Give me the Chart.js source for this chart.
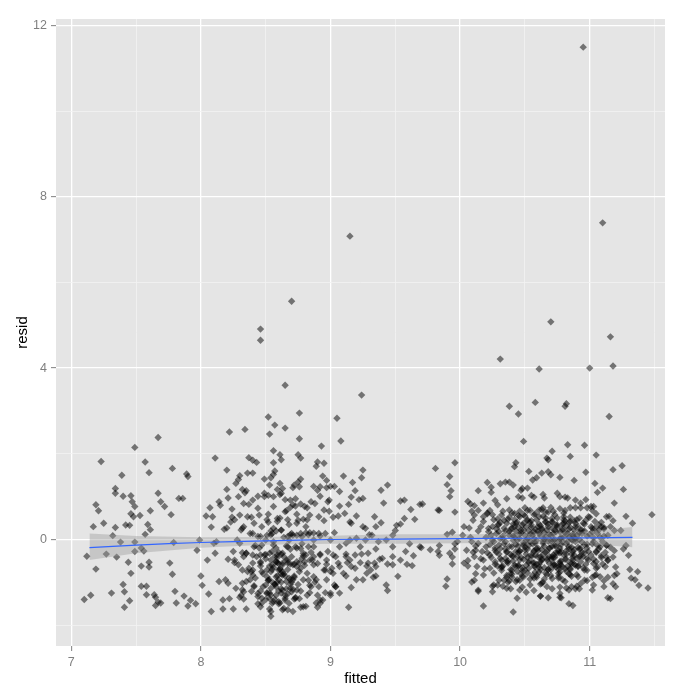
<!DOCTYPE html>
<html>
<head>
<meta charset="utf-8">
<script src="https://cdn.jsdelivr.net/npm/chart.js@4.4.1/dist/chart.umd.min.js"></script>
<style>
  html, body { margin: 0; padding: 0; background: #ffffff; }
  #wrap { width: 700px; height: 700px; }
</style>
</head>
<body>
<div id="wrap"><canvas id="resid_chart" width="700" height="700"></canvas></div>
<script>
// fitted values (x) and residuals (y)
var fitted = [
  // left group, below 8
  7.67, 7.49, 7.23, 7.57, 7.39, 7.60, 7.78, 7.89, 7.90, 7.34, 7.34, 7.40, 7.46, 7.47, 7.67, 7.69, 7.72, 7.49,
  7.83, 7.86, 7.19, 7.21, 7.46, 7.48, 7.53, 7.61, 7.77, 7.25, 7.17, 7.34, 7.42, 7.45, 7.59, 7.61, 7.57, 7.32,
  7.38, 7.49, 7.54, 7.56, 7.12, 7.27, 7.35, 7.49, 7.19, 7.44, 7.46, 7.54, 7.60, 7.60, 7.76, 7.78, 7.79, 7.97,
  7.40, 7.41, 7.31, 7.10, 7.15, 7.45, 7.41, 7.54, 7.58, 7.58, 7.64, 7.65, 7.67, 7.65, 7.69, 7.80, 7.81, 7.87,
  7.92, 7.90, 7.96,
  // middle group, upper part
  8.52, 8.76, 8.57, 8.53, 8.65, 8.22, 8.34, 9.05, 9.08, 8.76, 8.93, 8.11, 8.37, 8.40, 8.43, 8.56, 8.61, 8.62,
  8.56, 8.75, 8.77, 8.90, 8.95, 8.89, 8.20, 8.30, 8.29, 8.27, 8.36, 8.40, 8.49, 8.54, 8.57, 8.56, 8.53, 8.61,
  8.63, 8.59, 8.71, 8.77, 8.75, 8.72, 8.87, 8.94, 8.97, 8.97, 8.90, 9.00, 9.03, 9.07, 9.10, 9.17, 9.25, 9.24,
  9.19, 9.25, 9.16, 9.22, 9.14, 9.07, 8.98, 8.92, 8.85, 8.77, 8.73, 8.69, 8.65, 8.61, 8.56, 8.52, 8.49, 8.44,
  8.40, 8.37, 8.34, 8.32, 8.35, 8.20, 8.21, 8.14, 8.15, 8.07, 8.04, 8.09, 8.08, 8.18, 8.20, 8.24, 8.29, 8.30,
  8.24, 8.23, 8.33, 8.32, 8.39, 8.45, 8.52, 8.59, 8.66, 8.69, 8.73, 8.74, 8.79, 8.82, 8.84, 8.91, 8.95, 8.99,
  9.02, 9.06, 9.11, 9.15, 9.16, 9.20, 9.25, 9.27, 9.34, 9.35, 9.39, 9.30, 9.39, 9.44, 9.41, 9.57, 9.54, 9.62,
  9.57, 9.54, 9.51, 9.65, 9.69, 9.71, 9.83, 9.81,
  // middle group, around zero
  7.99, 8.10, 8.12, 8.28, 8.30, 8.40, 8.44, 8.42, 8.50, 8.51, 8.55, 8.56, 8.62, 8.67, 8.70, 8.74, 8.78, 8.81,
  8.84, 8.87, 8.92, 8.96, 9.00, 9.03, 9.07, 9.12, 9.15, 9.23, 9.20, 9.27, 9.32, 9.37, 9.43, 9.48, 9.50, 9.48,
  9.61, 9.70, 9.77, 9.83, 9.58, 9.69, 8.25, 8.32, 8.35, 8.40, 8.46, 8.53, 8.59, 8.62, 8.69, 8.73, 8.79, 8.83,
  8.87, 8.92, 8.98, 9.02, 9.04, 9.12, 9.19, 9.24, 9.29, 9.35, 9.40, 9.48, 9.54, 9.64, 9.44, 9.48, 9.59, 9.63,
  // middle group, lower part
  8.00, 8.01, 8.06, 8.08, 8.17, 8.17, 8.25, 8.22, 8.35, 8.14, 8.19, 8.21, 8.26, 8.21, 8.11, 8.05, 8.33, 8.32,
  8.39, 8.40, 8.35, 8.32, 8.30, 8.33, 8.39, 8.41, 8.46, 8.44, 8.44, 8.47, 8.51, 8.53, 8.53, 8.54, 8.50, 8.53,
  8.57, 8.59, 8.58, 8.60, 8.62, 8.65, 8.66, 8.69, 8.71, 8.67, 8.65, 8.63, 8.67, 8.61, 8.72, 8.76, 8.77, 8.81,
  8.84, 8.84, 8.88, 8.89, 8.91, 8.92, 8.89, 8.90, 8.94, 8.96, 9.00, 9.04, 9.03, 9.07, 9.14, 9.16, 9.20, 9.19,
  9.25, 9.28, 9.33, 9.35, 9.35, 9.31, 9.43, 9.44, 9.52, 9.02, 9.06, 9.07, 9.10, 9.12, 8.97, 9.00, 8.96, 8.87,
  8.84, 8.80, 8.76, 8.74, 8.69, 8.63, 8.59, 8.53, 8.51, 8.47, 8.46, 8.40, 8.37, 8.43, 9.13, 9.15, 9.16, 9.12,
  9.23, 9.28, 9.29, 9.38, 9.34,
  // middle group, dense core
  8.42, 8.45, 8.47, 8.48, 8.50, 8.52, 8.53, 8.55, 8.56, 8.57, 8.58, 8.59, 8.60, 8.61, 8.62, 8.63, 8.64, 8.65,
  8.66, 8.67, 8.68, 8.69, 8.70, 8.71, 8.72, 8.73, 8.74, 8.75, 8.76, 8.77, 8.78, 8.80, 8.81, 8.83, 8.85, 8.87,
  8.52, 8.57, 8.62, 8.66, 8.70, 8.54, 8.68, 8.60, 8.64, 8.46, 8.50, 8.58, 8.72, 8.79,
  // middle group, dense core (second look)
  8.54, 8.58, 8.60, 8.56, 8.61, 8.54, 8.51, 8.58, 8.63, 8.60, 8.56, 8.54, 8.51, 8.58, 8.63, 8.65, 8.60, 8.55,
  8.47, 8.44, 8.41, 8.38, 8.40, 8.46, 8.49, 8.55, 8.63, 8.67, 8.71, 8.74, 8.78, 8.77, 8.82, 8.79, 8.71, 8.69,
  8.74, 8.73, 8.68, 8.64, 8.54, 8.46, 8.33, 8.31, 8.32, 8.27, 8.36, 8.29, 8.26, 8.35, 8.41, 8.47, 8.56, 8.67,
  8.77, 8.87, 8.92, 8.90, 8.95, 8.87, 8.85, 8.90, 8.92, 8.82, 8.79, 8.71, 8.81, 8.86, 8.97, 9.01, 8.97, 9.04,
  9.00, 8.62, 8.69, 8.77, 8.83, 8.91, 8.54, 8.46, 8.38, 8.31, 8.74, 8.82, 8.67, 8.59, 8.51, 8.41, 8.36, 8.26,
  8.71, 8.80, 8.65, 8.56, 8.44, 8.33, 8.88, 8.95, 8.99, 8.62, 8.49, 8.76, 8.92,
  // right group, outer part
  10.49, 10.83, 10.96, 10.71, 10.85, 11.05, 10.67, 10.68, 10.43, 10.42, 9.96, 9.92, 9.90, 9.93, 9.92, 10.53,
  10.63, 10.68, 10.70, 10.77, 10.56, 10.59, 10.88, 10.97, 11.18, 11.25, 11.04, 11.06, 11.10, 11.26, 10.21, 10.31,
  10.35, 10.38, 10.41, 10.24, 10.24, 10.14, 10.47, 10.48, 10.52, 10.45, 10.48, 10.57, 10.55, 10.64, 10.65, 10.75,
  10.77, 10.81, 10.83, 10.89, 10.93, 10.97, 11.01, 11.03, 11.19, 10.36, 10.27, 10.29, 10.18, 10.06, 10.08, 10.11,
  9.96, 9.84, 10.09, 10.14, 10.21, 10.23, 10.25, 10.38, 10.42, 10.46, 10.50, 10.54, 10.57, 10.61, 10.64, 10.66,
  10.70, 10.72, 10.77, 10.81, 10.85, 10.89, 10.93, 10.98, 11.02, 11.05, 11.15, 11.18, 11.28, 11.33, 11.48, 11.19,
  11.24, 11.11, 10.03, 10.07, 9.90, 9.94, 9.84, 9.84, 9.96, 9.96, 9.92, 9.94, 9.94, 10.03, 10.06, 9.90,
  9.89, 10.09, 10.14, 10.18, 10.41, 10.12, 10.10, 10.25, 10.29, 10.33, 10.39, 10.38, 10.48, 10.51, 10.62, 10.68,
  10.78, 10.84, 10.87, 10.71, 10.77, 10.82, 10.89, 10.93, 10.92, 10.98, 11.02, 11.05, 11.11, 11.14, 11.18, 11.20,
  11.14, 11.16, 11.20, 11.19, 11.21, 11.31, 11.37, 11.32, 11.35, 11.38, 11.45, 11.30, 11.28, 11.26, 11.16, 11.19,
  11.18, 11.13, 11.14, 11.10, 11.06, 11.04,
  // right group, dense core
  10.18, 10.22, 10.26, 10.21, 10.27, 10.19, 10.30, 10.33, 10.31, 10.35, 10.32, 10.36, 10.38, 10.40, 10.41, 10.39,
  10.42, 10.40, 10.44, 10.46, 10.45, 10.47, 10.48, 10.46, 10.50, 10.51, 10.52, 10.50, 10.53, 10.52, 10.55, 10.57,
  10.56, 10.58, 10.57, 10.59, 10.61, 10.62, 10.60, 10.63, 10.62, 10.64, 10.66, 10.67, 10.68, 10.66, 10.69, 10.67,
  10.71, 10.72, 10.73, 10.71, 10.74, 10.75, 10.77, 10.76, 10.78, 10.77, 10.80, 10.81, 10.82, 10.80, 10.83, 10.85,
  10.86, 10.84, 10.87, 10.86, 10.89, 10.90, 10.91, 10.89, 10.93, 10.94, 10.95, 10.97, 10.98, 10.99, 11.01, 11.02,
  11.03, 11.06, 11.07, 11.09, 11.10, 11.12,
  10.20, 10.24, 10.28, 10.29, 10.34, 10.34, 10.37, 10.43, 10.43, 10.44, 10.49, 10.49, 10.51, 10.54, 10.55, 10.58,
  10.59, 10.61, 10.63, 10.65, 10.65, 10.68, 10.70, 10.72, 10.73, 10.75, 10.76, 10.79, 10.79, 10.82, 10.84, 10.85,
  10.88, 10.88, 10.92, 10.92, 10.96, 10.97, 11.00, 11.04, 11.05, 11.08, 11.11, 11.14, 11.16, 11.13, 10.12, 10.14,
  10.16, 10.08, 10.05, 10.10, 10.02, 9.98, 10.06,
  10.21, 10.23, 10.25, 10.26, 10.28, 10.29, 10.30, 10.31, 10.32, 10.33, 10.35, 10.36, 10.37, 10.38, 10.39, 10.40,
  10.41, 10.42, 10.43, 10.44, 10.45, 10.46, 10.47, 10.48, 10.49, 10.50, 10.51, 10.52, 10.53, 10.54, 10.55, 10.56,
  10.57, 10.58, 10.59, 10.60, 10.61, 10.62, 10.63, 10.64, 10.65, 10.66, 10.67, 10.68, 10.69, 10.70, 10.71, 10.72,
  10.73, 10.74, 10.75, 10.76, 10.77, 10.78, 10.79, 10.80, 10.81, 10.82, 10.83, 10.84, 10.85, 10.86, 10.87, 10.88,
  10.89, 10.90, 10.91, 10.92, 10.94, 10.95, 10.96, 10.98, 10.99, 11.00, 11.01, 11.03, 11.05, 11.07, 11.09, 11.11,
  10.24, 10.27, 10.30, 10.33, 10.36, 10.38, 10.40, 10.42, 10.44, 10.46, 10.48, 10.50, 10.52, 10.54, 10.56, 10.58,
  10.60, 10.62, 10.64, 10.66, 10.68, 10.70, 10.72, 10.74, 10.76, 10.78, 10.80, 10.82, 10.84, 10.86, 10.88, 10.90,
  10.92, 10.94, 10.96, 10.98, 11.02, 11.06, 10.53, 10.57, 10.61, 10.65, 10.69, 10.73, 10.77, 10.81, 10.85, 10.63,
  10.45, 10.41, 10.49, 10.59, 10.71, 10.79, 10.87,
  // right group, dense core (second look)
  10.11, 10.18, 10.26, 10.32, 10.37, 10.43, 10.46, 10.52, 10.55, 10.61, 10.66, 10.71, 10.75, 10.80, 10.85, 10.90,
  10.95, 10.99, 11.04, 11.09, 11.13, 10.16, 10.22, 10.29, 10.34, 10.39, 10.45, 10.49, 10.58, 10.63, 10.68, 10.73,
  10.79, 10.84, 10.89, 10.94, 11.02, 11.07,
  10.09, 10.14, 10.20, 10.25, 10.30, 10.35, 10.40, 10.44, 10.49, 10.54, 10.59, 10.64, 10.70, 10.74, 10.79, 10.84,
  10.89, 10.93, 10.98, 11.03, 11.08, 11.13, 10.12, 10.17, 10.27, 10.36, 10.46, 10.57, 10.67, 10.77, 10.87, 10.96,
  11.05,
  10.11, 10.18, 10.23, 10.31, 10.36, 10.41, 10.46, 10.52, 10.57, 10.62, 10.67, 10.72, 10.77, 10.82, 10.87, 10.93,
  10.98, 11.03, 11.09, 11.14, 10.13, 10.23, 10.32, 10.40, 10.45, 10.53, 10.61, 10.70, 10.76, 10.85, 10.91, 10.96,
  11.05, 11.12,
  10.11, 10.18, 10.26, 10.34, 10.39, 10.43, 10.49, 10.54, 10.59, 10.63, 10.71, 10.76, 10.81, 10.86, 10.91, 10.96,
  11.03, 11.08, 10.14, 10.25, 10.36, 10.46, 10.57, 10.67, 10.77, 10.84, 10.90, 11.02, 11.11, 10.62, 10.77, 10.44,
  // right group, dense core (third look)
  10.28, 10.33, 10.38, 10.42, 10.47, 10.51, 10.56, 10.60, 10.65, 10.69, 10.74, 10.78, 10.83, 10.87, 10.92,
  10.30, 10.35, 10.40, 10.45, 10.50, 10.55, 10.60, 10.64, 10.69, 10.73, 10.78, 10.82, 10.88, 10.93,
  10.27, 10.32, 10.37, 10.43, 10.48, 10.53, 10.58, 10.63, 10.68, 10.72, 10.77, 10.81, 10.86, 10.91,
  10.31, 10.36, 10.41, 10.47, 10.52, 10.57, 10.62, 10.66, 10.71, 10.76, 10.80, 10.85,
  // middle group, dense core (third look)
  8.50, 8.55, 8.59, 8.63, 8.67, 8.72, 8.52, 8.57, 8.61, 8.66, 8.70, 8.54, 8.58, 8.62, 8.68, 8.48, 8.56, 8.64,
  8.60, 8.75,
  // outliers
  10.95, 11.10, 9.15, 8.70, 8.46, 8.46, 10.70, 11.16, 10.31, 10.61, 11.00, 11.18, 10.38, 10.45, 10.58, 10.82,
  10.81, 11.15, 8.65, 9.24
];

var resid = [
  2.38, 2.15, 1.82, 1.81, 1.50, 1.56, 1.66, 1.53, 1.47, 1.19, 1.08, 1.01, 1.02, 0.88, 1.08, 0.88, 0.77, 0.77,
  0.96, 0.96, 0.81, 0.67, 0.60, 0.53, 0.56, 0.67, 0.58, 0.38, 0.30, 0.28, 0.34, 0.33, 0.35, 0.23, 0.12, 0.09,
  -0.06, -0.06, -0.20, -0.27, -0.39, -0.34, -0.41, -0.28, -0.69, -0.53, -0.79, -0.62, -0.53, -0.64, -0.55, -0.81, -0.07, -0.25,
  -1.05, -1.22, -1.25, -1.40, -1.30, -1.43, -1.58, -1.09, -1.09, -1.29, -1.29, -1.35, -1.46, -1.54, -1.48, -1.21, -1.48, -1.32,
  -1.42, -1.55, -1.50,
  2.86, 2.95, 2.67, 2.46, 2.60, 2.51, 2.57, 2.83, 2.30, 2.35, 2.18, 1.90, 1.91, 1.85, 1.80, 2.07, 1.98, 1.86,
  1.79, 1.98, 1.90, 1.81, 1.78, 1.71, 1.62, 1.49, 1.40, 1.31, 1.55, 1.55, 1.41, 1.44, 1.60, 1.52, 1.27, 1.31,
  1.19, 1.17, 1.21, 1.41, 1.34, 1.27, 1.24, 1.48, 1.38, 1.21, 1.15, 1.24, 1.24, 1.12, 1.48, 1.33, 1.62, 1.44,
  1.14, 0.96, 0.99, 0.93, 0.82, 0.78, 0.88, 1.01, 0.88, 0.83, 0.95, 0.92, 0.93, 1.05, 1.00, 1.03, 1.00, 1.01,
  0.92, 0.82, 1.09, 1.17, 1.14, 1.17, 0.97, 0.88, 0.80, 0.74, 0.55, 0.53, 0.29, 0.24, 0.27, 0.71, 1.00, 0.57,
  0.52, 0.41, 0.30, 0.26, 0.52, 0.57, 0.59, 0.49, 0.67, 0.75, 0.78, 0.59, 0.47, 0.74, 0.57, 0.53, 0.44, 0.66,
  0.52, 0.55, 0.61, 0.41, 0.38, 0.55, 0.30, 0.26, 0.53, 0.30, 0.39, 0.11, 1.15, 1.27, 0.85, 0.92, 0.90, 0.70,
  0.49, 0.36, 0.33, 0.47, 0.82, 0.83, 0.69, 1.66,
  -0.01, -0.09, -0.05, -0.01, -0.09, 0.14, 0.07, -0.14, -0.01, 0.10, 0.14, 0.26, 0.22, 0.07, 0.14, 0.10, 0.07, 0.16,
  0.16, -0.01, 0.08, 0.14, -0.01, 0.16, -0.17, -0.09, -0.01, -0.17, 0.03, -0.01, 0.10, -0.05, -0.01, -0.17, 0.21, 0.10,
  -0.10, -0.19, -0.24, -0.28, -0.28, -0.17, -0.28, -0.31, -0.32, -0.36, -0.36, -0.32, -0.36, -0.34, -0.23, -0.17, -0.32, -0.17,
  -0.40, -0.34, -0.28, -0.36, -0.40, -0.34, -0.36, -0.34, -0.32, -0.22, -0.44, -0.40, -0.48, -0.38, -0.57, -0.59, -0.58, -0.61,
  -0.85, -1.07, -1.27, -1.68, -1.41, -1.62, -1.62, -1.38, -1.62, -0.98, -0.94, -1.02, -0.54, -0.46, -0.32, -0.48, -0.40, -0.71,
  -0.75, -0.83, -0.98, -1.17, -1.35, -1.39, -1.21, -1.08, -1.20, -1.33, -1.50, -1.48, -1.24, -1.38, -1.62, -1.79, -1.06, -0.94,
  -1.04, -1.00, -0.52, -0.71, -0.80, -0.85, -0.98, -0.94, -1.16, -1.27, -1.41, -1.64, -1.64, -1.48, -1.39, -1.38, -1.58, -1.56,
  -1.24, -1.07, -1.00, -0.94, -1.10, -1.41, -1.48, -1.58, -1.41, -1.24, -1.25, -1.10, -1.06, -1.25, -1.58, -1.12, -0.94, -0.67,
  -0.94, -0.79, -0.88, -0.85, -0.63, -0.71, -1.06, -1.19, -0.86, -0.79, -0.55, -0.63, -0.79, -0.85, -0.58, -0.75, -0.71, -0.59,
  -0.48, -0.52, -0.54, -0.63, -0.57, -0.59, -0.54, -0.62, -0.71, -0.75, -0.55, -0.55, -0.67, -0.40, -0.54, -0.48, -0.63, -0.40,
  -0.54, -0.62, -0.55, -0.46, -0.55,
  -0.90, -0.20, 0.30, -1.10, -0.45, 0.40, -1.25, -0.70, -0.05, -1.40, 0.20, -0.85, -0.30, 0.50, -1.15, -0.55, 0.05, -1.30,
  -0.15, -0.70, 0.35, -1.05, -0.40, 0.10, -0.88, -1.35, -0.20, 0.45, -0.75, -1.20, -0.10, -0.60, 0.30, -0.95, -0.30, 0.15,
  -0.95, -0.40, -1.00, -0.48, -1.22, 0.20, -0.02, -1.50, -0.80, -0.62, -1.40, -1.10, -0.58, -0.38,
  -0.48, -0.52, -0.56, -0.65, -0.70, -0.75, -0.87, -0.87, -0.83, -0.94, -1.02, -1.14, -1.26, -1.30, -1.18, -1.37, -1.45, -1.49,
  -1.37, -1.26, -1.10, -0.94, -0.71, -0.52, -0.36, -0.28, -0.32, -0.48, -0.59, -0.52, -0.44, -0.67, -0.79, -0.94, -0.94, -1.14,
  -1.18, -1.37, -1.49, -1.61, -1.68, -1.57, -1.22, -1.30, -1.02, -1.14, -0.75, -0.59, -0.48, -0.32, -0.17, -0.13, -0.13, -0.17,
  -0.21, -0.17, -0.36, -0.56, -0.71, -0.87, -1.10, -1.30, -1.49, -1.30, -1.57, -1.68, -0.36, -0.48, -0.48, -0.67, -0.94, -1.10,
  -1.30, 0.22, 0.11, 0.14, 0.11, 0.14, 0.11, 0.07, 0.14, 0.22, 0.38, 0.46, 0.46, 0.42, 0.46, 0.38, 0.53, 0.46,
  0.81, 0.77, 0.65, 0.77, 0.73, 0.84, 0.84, 0.69, 0.92, 1.08, 1.08, 1.23, 1.23,
  2.29, 2.21, 2.20, 2.06, 1.94, 1.97, 1.90, 1.86, 1.79, 1.70, 1.79, 1.47, 1.28, 1.14, 1.00, 1.59,
  1.55, 1.58, 1.51, 1.45, 1.39, 1.44, 1.38, 1.57, 1.63, 1.72, 1.31, 1.10, 1.20, 1.17, 1.33, 1.30,
  1.34, 1.34, 1.27, 1.22, 1.10, 1.14, 1.15, 1.19, 1.20, 1.00, 0.97, 0.99, 1.03, 1.05, 0.97, 1.08,
  1.00, 0.99, 0.97, 0.92, 0.85, 0.93, 0.77, 0.77, 0.85, 0.95, 0.91, 0.81, 0.85, 0.89, 0.83, 0.79,
  0.64, 0.68, 0.66, 0.68, 0.60, 0.68, 0.58, 0.69, 0.61, 0.66, 0.74, 0.68, 0.58, 0.69, 0.74, 0.64,
  0.75, 0.66, 0.72, 0.68, 0.74, 0.74, 0.74, 0.74, 0.68, 0.60, 0.54, 0.44, 0.54, 0.38, 0.58, 0.21,
  0.21, 0.25, 0.30, 0.27, 0.12, 0.17, -0.14, -0.37, -0.10, -0.22, -0.32, -0.41, -0.57, -0.55, -0.49, -0.92,
  -1.09, -0.99, -1.21, -1.55, -1.69, -0.80, -0.30, -1.09, -1.06, -1.09, -1.15, -0.96, -1.11, -1.23, -1.32, -1.36,
  -1.36, -1.50, -1.54, -1.15, -1.11, -1.13, -1.15, -1.03, -1.15, -0.96, -0.88, -0.82, -0.96, -0.88, -1.03, -1.10,
  -1.36, -1.38, -0.64, -0.84, -0.80, -0.70, -0.75, -0.90, -0.94, -1.07, -1.13, -0.37, -0.14, -0.22, -0.18, -0.26,
  -0.41, -0.41, -0.49, -0.57, -0.64, -0.84,
  0.42, 0.18, -0.05, -0.31, -0.52, -0.68, 0.35, 0.08, -0.21, -0.44, -0.72, -0.88, 0.52, 0.27, -0.02, -0.35,
  -0.60, -0.81, 0.40, 0.12, -0.15, -0.42, -0.66, -0.95, 0.55, 0.30, 0.02, -0.24, -0.51, -0.78, 0.44, 0.18,
  -0.10, -0.37, -0.62, -0.88, 0.36, 0.08, -0.20, -0.46, -0.70, -1.00, 0.50, 0.22, -0.04, -0.30, -0.56, -0.82,
  0.40, 0.14, -0.14, -0.40, -0.64, 0.30, 0.02, -0.26, -0.50, -0.76, 0.46, 0.16, -0.10, -0.36, -0.62, 0.28,
  0.00, -0.22, -0.48, -0.86, 0.38, 0.10, -0.18, -0.60, 0.22, -0.06, -0.40, 0.45, 0.08, -0.28, 0.30, -0.10,
  -0.46, 0.14, -0.22, 0.40, -0.05, -0.30,
  0.05, -0.42, 0.25, -0.62, 0.45, -0.10, -0.55, 0.20, -0.28, -0.74, 0.38, -0.08, -0.60, 0.12, -0.36, 0.60,
  -0.02, -0.58, 0.24, -0.16, -0.92, 0.36, -0.46, -0.02, 0.58, -0.32, -0.90, 0.22, -0.64, -0.26, 0.06, -0.70,
  0.22, -0.36, -0.22, 0.50, -0.12, -0.58, 0.12, 0.26, -0.30, 0.05, 0.28, 0.10, 0.30, -0.14, -0.15, 0.20,
  -0.45, 0.05, -0.25, 0.45, 0.10, -0.05, -0.62,
  0.62, -0.12, 0.30, -0.78, -0.30, 0.48, -0.95, 0.02, -0.48, 0.66, 0.20, -0.30, -1.00, 0.10, -0.70, 0.62,
  -0.50, 0.30, -0.12, -0.94, 0.56, -0.26, 0.22, -0.86, -0.46, 0.10, -0.34, 0.68, -0.14, -0.92, 0.28, -0.54,
  0.02, -0.76, 0.46, -0.40, 0.14, -1.04, -0.24, 0.54, -0.66, 0.06, -0.44, 0.64, -0.20, -0.84, 0.26, -0.56,
  0.00, -0.30, 0.50, -0.70, 0.18, -0.12, -0.94, 0.62, -0.46, 0.32, -0.04, -0.80, 0.52, -0.34, 0.12, -0.58,
  0.02, -0.82, 0.30, -0.40, 0.14, -0.66, 0.36, -0.20, -0.48, 0.52, -0.36, 0.04, -0.52, 0.34, -0.38, 0.08,
  0.10, -0.20, 0.18, -0.62, 0.38, -0.16, -0.88, 0.46, -0.40, 0.02, 0.34, -0.72, -0.22, 0.40, -0.84, -0.08,
  0.30, -0.52, -0.04, 0.40, -0.70, 0.10, -0.36, 0.34, -0.04, -0.60, 0.06, -0.74, 0.40, -0.18, 0.44, -0.44,
  0.00, -0.30, 0.20, -0.72, 0.18, -0.14, 0.20, -0.28, -0.76, 0.16, -0.40, -0.60, -0.20, 0.44, -0.54, 0.70,
  -0.60, 0.08, 0.58, -0.58, -0.16, 0.36, -0.02,
  0.57, 0.53, 0.46, 0.57, 0.47, 0.38, 0.53, 0.46, 0.34, 0.53, 0.42, 0.49, 0.34, 0.53, 0.42, 0.46,
  0.38, 0.53, 0.42, 0.30, 0.53, 0.30, 0.26, 0.34, 0.26, 0.24, 0.28, 0.22, 0.24, 0.26, 0.30, 0.22,
  0.26, 0.24, 0.30, 0.22, 0.26, 0.22,
  -0.05, -0.09, -0.17, -0.01, -0.13, -0.05, -0.17, -0.01, -0.13, -0.05, -0.21, -0.09, -0.03, -0.15, -0.05, -0.17,
  -0.05, -0.21, -0.11, -0.05, -0.17, -0.13, -0.25, -0.28, -0.25, -0.28, -0.28, -0.26, -0.28, -0.31, -0.28, -0.31,
  -0.28,
  -0.40, -0.48, -0.36, -0.44, -0.52, -0.39, -0.48, -0.42, -0.54, -0.40, -0.48, -0.42, -0.56, -0.46, -0.42, -0.52,
  -0.44, -0.56, -0.42, -0.48, -0.63, -0.67, -0.63, -0.71, -0.62, -0.67, -0.65, -0.70, -0.63, -0.67, -0.63, -0.71,
  -0.67, -0.63,
  -0.95, -0.83, -1.06, -0.95, -0.79, -0.98, -0.87, -1.06, -0.83, -1.02, -0.91, -0.79, -0.98, -1.10, -0.87, -0.95,
  -1.06, -0.87, -1.18, -1.22, -1.14, -1.18, -1.19, -1.10, -1.26, -1.18, -1.09, -1.18, -1.10, -1.32, -1.35, -1.37,
  0.14, 0.02, 0.18, 0.06, 0.16, -0.02, 0.10, 0.20, 0.00, 0.12, 0.18, 0.04, 0.14, 0.08, 0.16,
  -0.34, -0.22, -0.38, -0.30, -0.18, -0.40, -0.26, -0.36, -0.20, -0.42, -0.28, -0.34, -0.24, -0.38,
  -0.58, -0.66, -0.50, -0.62, -0.72, -0.54, -0.64, -0.48, -0.70, -0.60, -0.52, -0.68, -0.56, -0.62,
  0.40, -0.84, 0.36, -0.80, 0.44, -0.90, 0.32, -0.78, 0.42, -0.86, 0.38, -0.82,
  -0.35, -0.60, -0.42, -0.75, -0.55, -0.85, -0.95, -1.05, -0.68, -1.15, -1.00, -1.30, -0.20, -1.25, -0.90, -0.80,
  -1.45, -0.40, -1.20, -1.05,
  11.49, 7.39, 7.08, 5.56, 4.91, 4.65, 5.08, 4.73, 4.21, 3.98, 4.00, 4.05, 3.11, 2.93, 3.20, 3.17,
  3.11, 2.87, 3.60, 3.37
];

// smoothed fit and its confidence band
var smoothX = [7.14, 7.5, 8.0, 8.5, 9.0, 9.5, 10.0, 10.5, 11.0, 11.33];
var smoothY = [-0.19, -0.13, -0.07, -0.03, 0.0, 0.01, 0.02, 0.03, 0.04, 0.05];
var bandHi = [0.14, 0.08, 0.05, 0.06, 0.09, 0.12, 0.12, 0.13, 0.19, 0.29];
var bandLo = [-0.48, -0.32, -0.19, -0.12, -0.10, -0.10, -0.09, -0.07, -0.11, -0.18];

// grid lines and tick labels
var xGrid = [7, 7.5, 8, 8.5, 9, 9.5, 10, 10.5, 11, 11.5];
var xLabels = [7, 8, 9, 10, 11];
var yGrid = [-2, 0, 2, 4, 6, 8, 10, 12];
var yLabels = [0, 4, 8, 12];

var tickGray = '#7f7f7f';

function toPoints(xs, ys) {
  var pts = [];
  var n = Math.min(xs.length, ys.length);
  for (var i = 0; i < n; i++) {
    pts.push({x: xs[i], y: ys[i]});
  }
  return pts;
}

// grey panel behind the grid
var panelBg = {
  id: 'panelBg',
  beforeDraw: function(chart) {
    var a = chart.chartArea;
    var ctx = chart.ctx;
    ctx.save();
    ctx.fillStyle = '#e5e5e5';
    ctx.fillRect(a.left, a.top, a.right - a.left, a.bottom - a.top);
    ctx.restore();
  }
};

function gridColor(labels) {
  return function(c) {
    if (!c.tick) return '#ffffff';
    return labels.indexOf(c.tick.value) >= 0 ? '#ffffff' : '#f2f2f2';
  };
}

function gridWidth(labels) {
  return function(c) {
    if (!c.tick) return 1;
    return labels.indexOf(c.tick.value) >= 0 ? 1.3 : 0.8;
  };
}

function tickColor(labels) {
  return function(c) {
    if (!c.tick) return 'transparent';
    return labels.indexOf(c.tick.value) >= 0 ? tickGray : 'rgba(0,0,0,0)';
  };
}

var ctx = document.getElementById('resid_chart').getContext('2d');
new Chart(ctx, {
  type: 'scatter',
  data: {
    datasets: [{
      type: 'line',
      data: toPoints(smoothX, smoothY),
      borderColor: '#3366ff',
      borderWidth: 1.2,
      pointRadius: 0,
      fill: false,
      tension: 0.3,
      order: 0,
    }, {
      type: 'line',
      data: toPoints(smoothX, bandHi),
      borderWidth: 0,
      borderColor: 'rgba(0,0,0,0)',
      backgroundColor: 'rgba(153,153,153,0.4)',
      pointRadius: 0,
      fill: '+1',
      order: 1,
    }, {
      type: 'line',
      data: toPoints(smoothX, bandLo),
      borderWidth: 0,
      borderColor: 'rgba(0,0,0,0)',
      pointRadius: 0,
      fill: false,
      order: 1,
    }, {
      data: toPoints(fitted, resid),
      pointStyle: 'rectRot',
      pointRadius: 3.7,
      pointBorderWidth: 0,
      backgroundColor: 'rgba(0,0,0,0.5)',
      borderColor: 'rgba(0,0,0,0)',
      order: 2,
    }],
  },
  options: {
    responsive: false,
    animation: false,
    devicePixelRatio: 1,
    layout: {
      padding: {top: 19, right: 35, left: 0, bottom: 0},
    },
    plugins: {
      legend: {display: false},
      tooltip: {enabled: false},
    },
    scales: {
      x: {
        type: 'linear',
        min: 6.882,
        max: 11.581,
        afterBuildTicks: function(axis) {
          axis.ticks = xGrid.map(function(v) { return {value: v}; });
        },
        afterFit: function(axis) {
          axis.height = 54;
        },
        border: {display: false},
        grid: {
          color: gridColor(xLabels),
          lineWidth: gridWidth(xLabels),
          tickColor: tickColor(xLabels),
          tickLength: 5,
          tickWidth: 1,
        },
        ticks: {
          autoSkip: false,
          maxRotation: 0,
          padding: 4,
          color: tickGray,
          font: {family: 'Liberation Sans', size: 12.5},
          callback: function(v) {
            return xLabels.indexOf(v) >= 0 ? String(v) : '';
          },
        },
        title: {
          display: true,
          text: 'fitted',
          color: '#000000',
          font: {family: 'Liberation Sans', size: 15},
          padding: {top: 0, bottom: 12},
        },
      },
      y: {
        type: 'linear',
        min: -2.485,
        max: 12.147,
        afterBuildTicks: function(axis) {
          axis.ticks = yGrid.map(function(v) { return {value: v}; });
        },
        afterFit: function(axis) {
          axis.width = 56;
        },
        border: {display: false},
        grid: {
          color: gridColor(yLabels),
          lineWidth: gridWidth(yLabels),
          tickColor: tickColor(yLabels),
          tickLength: 5,
          tickWidth: 1,
        },
        ticks: {
          autoSkip: false,
          padding: 4,
          color: tickGray,
          font: {family: 'Liberation Sans', size: 12.5},
          callback: function(v) {
            return yLabels.indexOf(v) >= 0 ? String(v) : '';
          },
        },
        title: {
          display: true,
          text: 'resid',
          color: '#000000',
          font: {family: 'Liberation Sans', size: 15},
          padding: {top: 14, bottom: 0},
        },
      },
    },
  },
  plugins: [panelBg],
});
</script>
</body>
</html>
